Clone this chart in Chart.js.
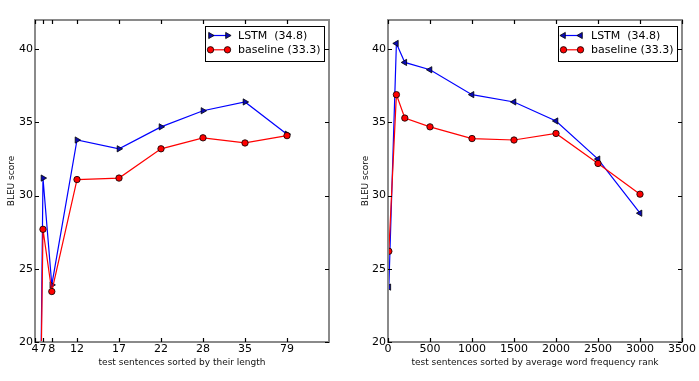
<!DOCTYPE html>
<html><head><meta charset="utf-8">
<script src="https://cdn.jsdelivr.net/npm/chart.js@4/dist/chart.umd.min.js"></script>
<style>
html,body{margin:0;padding:0;background:#fff;}
#wrap{position:relative;width:699px;height:381px;overflow:hidden;background:#fff;}
canvas{position:absolute;top:0;}
</style></head><body>
<div id="wrap">
<canvas id="c1" width="349" height="381" style="left:0px"></canvas>
<canvas id="c2" width="349" height="381" style="left:350px"></canvas>
</div>
<script>
// ---- data ----
const lengthTickPos = [0, 0.19, 0.4, 1, 2, 3, 4, 5, 6];
const lengthTickLabels = ['4', '7', '8', '12', '17', '22', '28', '35', '79'];
const lengthX = [0.13, 0.19, 0.4, 1, 2, 3, 4, 5, 6];
const lengthLSTM = [15, 31.2, 23.9, 33.8, 33.2, 34.7, 35.8, 36.4, 34.2];
const lengthBaseline = [15, 27.7, 23.45, 31.1, 31.2, 33.2, 33.95, 33.6, 34.1];

const rankTicks = [0, 500, 1000, 1500, 2000, 2500, 3000, 3500];
const rankX = [10, 100, 200, 500, 1000, 1500, 2000, 2500, 3000];
const rankLSTM = [23.75, 40.4, 39.1, 38.6, 36.9, 36.4, 35.1, 32.5, 28.8];
const rankBaseline = [26.2, 36.9, 35.3, 34.7, 33.9, 33.8, 34.25, 32.2, 30.1];

const yTicks = [20, 25, 30, 35, 40];
const legendLabels = ['LSTM  (34.8)', 'baseline (33.3)'];
const yTitle = 'BLEU score';
const xTitleLeft = 'test sentences sorted by their length';
const xTitleRight = 'test sentences sorted by average word frequency rank';

const FONT = '"DejaVu Sans", "Liberation Sans", sans-serif';
const BLUE = '#0000ff', RED = '#ff0000';
const TRI_FILL = '#0a0ab4';

function pts(xs, ys) { return xs.map((x, i) => ({x: x, y: ys[i]})); }

const frameTicks = {
  id: 'frameTicks',
  afterDatasetsDraw(chart) {
    const {ctx, chartArea: a, scales} = chart;
    const xs = scales.x, ys = scales.y;
    ctx.save();
    ctx.strokeStyle = '#8a8a8a';
    ctx.lineWidth = 2;
    ctx.strokeRect(a.left, a.top, a.right - a.left, a.bottom - a.top);
    ctx.strokeStyle = '#000';
    ctx.lineWidth = 1.2;
    const L = 4;
    ctx.beginPath();
    xs.ticks.forEach(t => {
      const px = Math.round(xs.getPixelForValue(t.value)) + 0.5;
      ctx.moveTo(px, a.bottom); ctx.lineTo(px, a.bottom - L);
      ctx.moveTo(px, a.top); ctx.lineTo(px, a.top + L);
    });
    ys.ticks.forEach(t => {
      const py = Math.round(ys.getPixelForValue(t.value)) + 0.5;
      ctx.moveTo(a.left, py); ctx.lineTo(a.left + L, py);
      ctx.moveTo(a.right, py); ctx.lineTo(a.right - L, py);
    });
    ctx.stroke();
    ctx.restore();
  }
};

const boxLegend = {
  id: 'boxLegend',
  afterDraw(chart, args, opts) {
    const {ctx, chartArea: a} = chart;
    const w = 118.5, h = 34.5;
    const bx = a.right - 6 - w, by = a.top + 6;
    ctx.save();
    ctx.fillStyle = '#fff';
    ctx.fillRect(bx, by, w, h);
    ctx.strokeStyle = '#000';
    ctx.lineWidth = 1;
    ctx.strokeRect(Math.round(bx) + 0.5, Math.round(by) + 0.5, Math.round(w), Math.round(h));
    chart.data.datasets.forEach((ds, i) => {
      const cy = by + 9.5 + i * 14.3;
      const x1 = bx + 6, x2 = bx + 23;
      ctx.strokeStyle = ds.borderColor;
      ctx.lineWidth = 1.2;
      ctx.beginPath(); ctx.moveTo(x1, cy); ctx.lineTo(x2, cy); ctx.stroke();
      ctx.fillStyle = ds.pointBackgroundColor;
      ctx.strokeStyle = ds.pointBorderColor;
      ctx.lineWidth = ds.pointBorderWidth;
      const o = {pointStyle: ds.pointStyle, rotation: ds.pointRotation || 0, radius: ds.pointRadius, borderWidth: ds.pointBorderWidth};
      Chart.helpers.drawPoint(ctx, o, x1, cy);
      Chart.helpers.drawPoint(ctx, o, x2, cy);
      ctx.fillStyle = '#000';
      ctx.font = '11px ' + FONT;
      ctx.textBaseline = 'middle';
      ctx.textAlign = 'left';
      ctx.fillText(legendLabels[i], bx + 33.5, cy + 0.5);
    });
    ctx.restore();
  }
};

function makeChart(id, cfg) {
  const lstm = {
    label: legendLabels[0], data: pts(cfg.x, cfg.lstm),
    borderColor: BLUE, borderWidth: 1.2, pointStyle: 'triangle', pointRotation: cfg.rot,
    pointRadius: 3.6, pointBackgroundColor: TRI_FILL, pointBorderColor: '#000', pointBorderWidth: 0.8,
    pointHoverRadius: 3.6, order: 1
  };
  const base = {
    label: legendLabels[1], data: pts(cfg.x, cfg.base),
    borderColor: RED, borderWidth: 1.2, pointStyle: 'circle',
    pointRadius: 3.2, pointBackgroundColor: RED, pointBorderColor: '#000', pointBorderWidth: 0.8,
    pointHoverRadius: 3.2, order: 0
  };
  return new Chart(document.getElementById(id), {
    type: 'line',
    data: {datasets: [lstm, base]},
    plugins: [frameTicks, boxLegend],
    options: {
      responsive: false, animation: false, devicePixelRatio: 1,
      layout: {padding: {left: 0, top: 20, right: cfg.padRight, bottom: 0}},
      plugins: {legend: {display: false}, tooltip: {enabled: false}},
      elements: {line: {tension: 0}},
      scales: {
        x: {
          type: 'linear', min: cfg.xmin, max: cfg.xmax,
          afterBuildTicks: s => { s.ticks = cfg.xticks.map(v => ({value: v})); },
          afterFit: s => { s.height = 39; },
          grid: {display: false, drawTicks: false},
          border: {display: false},
          ticks: {
            autoSkip: false, maxRotation: 0, minRotation: 0, padding: 1,
            color: '#000', font: {family: FONT, size: 11},
            callback: cfg.xlabel
          },
          title: {display: true, text: cfg.xtitle, color: '#111', font: {family: FONT, size: 9}, padding: {top: 0, bottom: 13}}
        },
        y: {
          type: 'linear', min: 20, max: 42,
          afterBuildTicks: s => { s.ticks = yTicks.map(v => ({value: v})); },
          afterFit: s => { s.width = cfg.yw; },
          grid: {display: false, drawTicks: false},
          border: {display: false},
          ticks: {padding: 2, color: '#000', font: {family: FONT, size: 11}},
          title: {display: true, text: yTitle, color: '#111', font: {family: FONT, size: 9}, padding: {top: cfg.ytp, bottom: 0}}
        }
      }
    }
  });
}

makeChart('c1', {
  x: lengthX, lstm: lengthLSTM, base: lengthBaseline, rot: 90,
  xmin: 0, xmax: 7, xticks: lengthTickPos,
  xlabel: (v, i) => lengthTickLabels[i],
  xtitle: xTitleLeft, yw: 35, ytp: 6, padRight: 20
});
makeChart('c2', {
  x: rankX, lstm: rankLSTM, base: rankBaseline, rot: 270,
  xmin: 0, xmax: 3500, xticks: rankTicks,
  xlabel: (v) => String(v),
  xtitle: xTitleRight, yw: 38, ytp: 10, padRight: 17
});
</script>
</body></html>
